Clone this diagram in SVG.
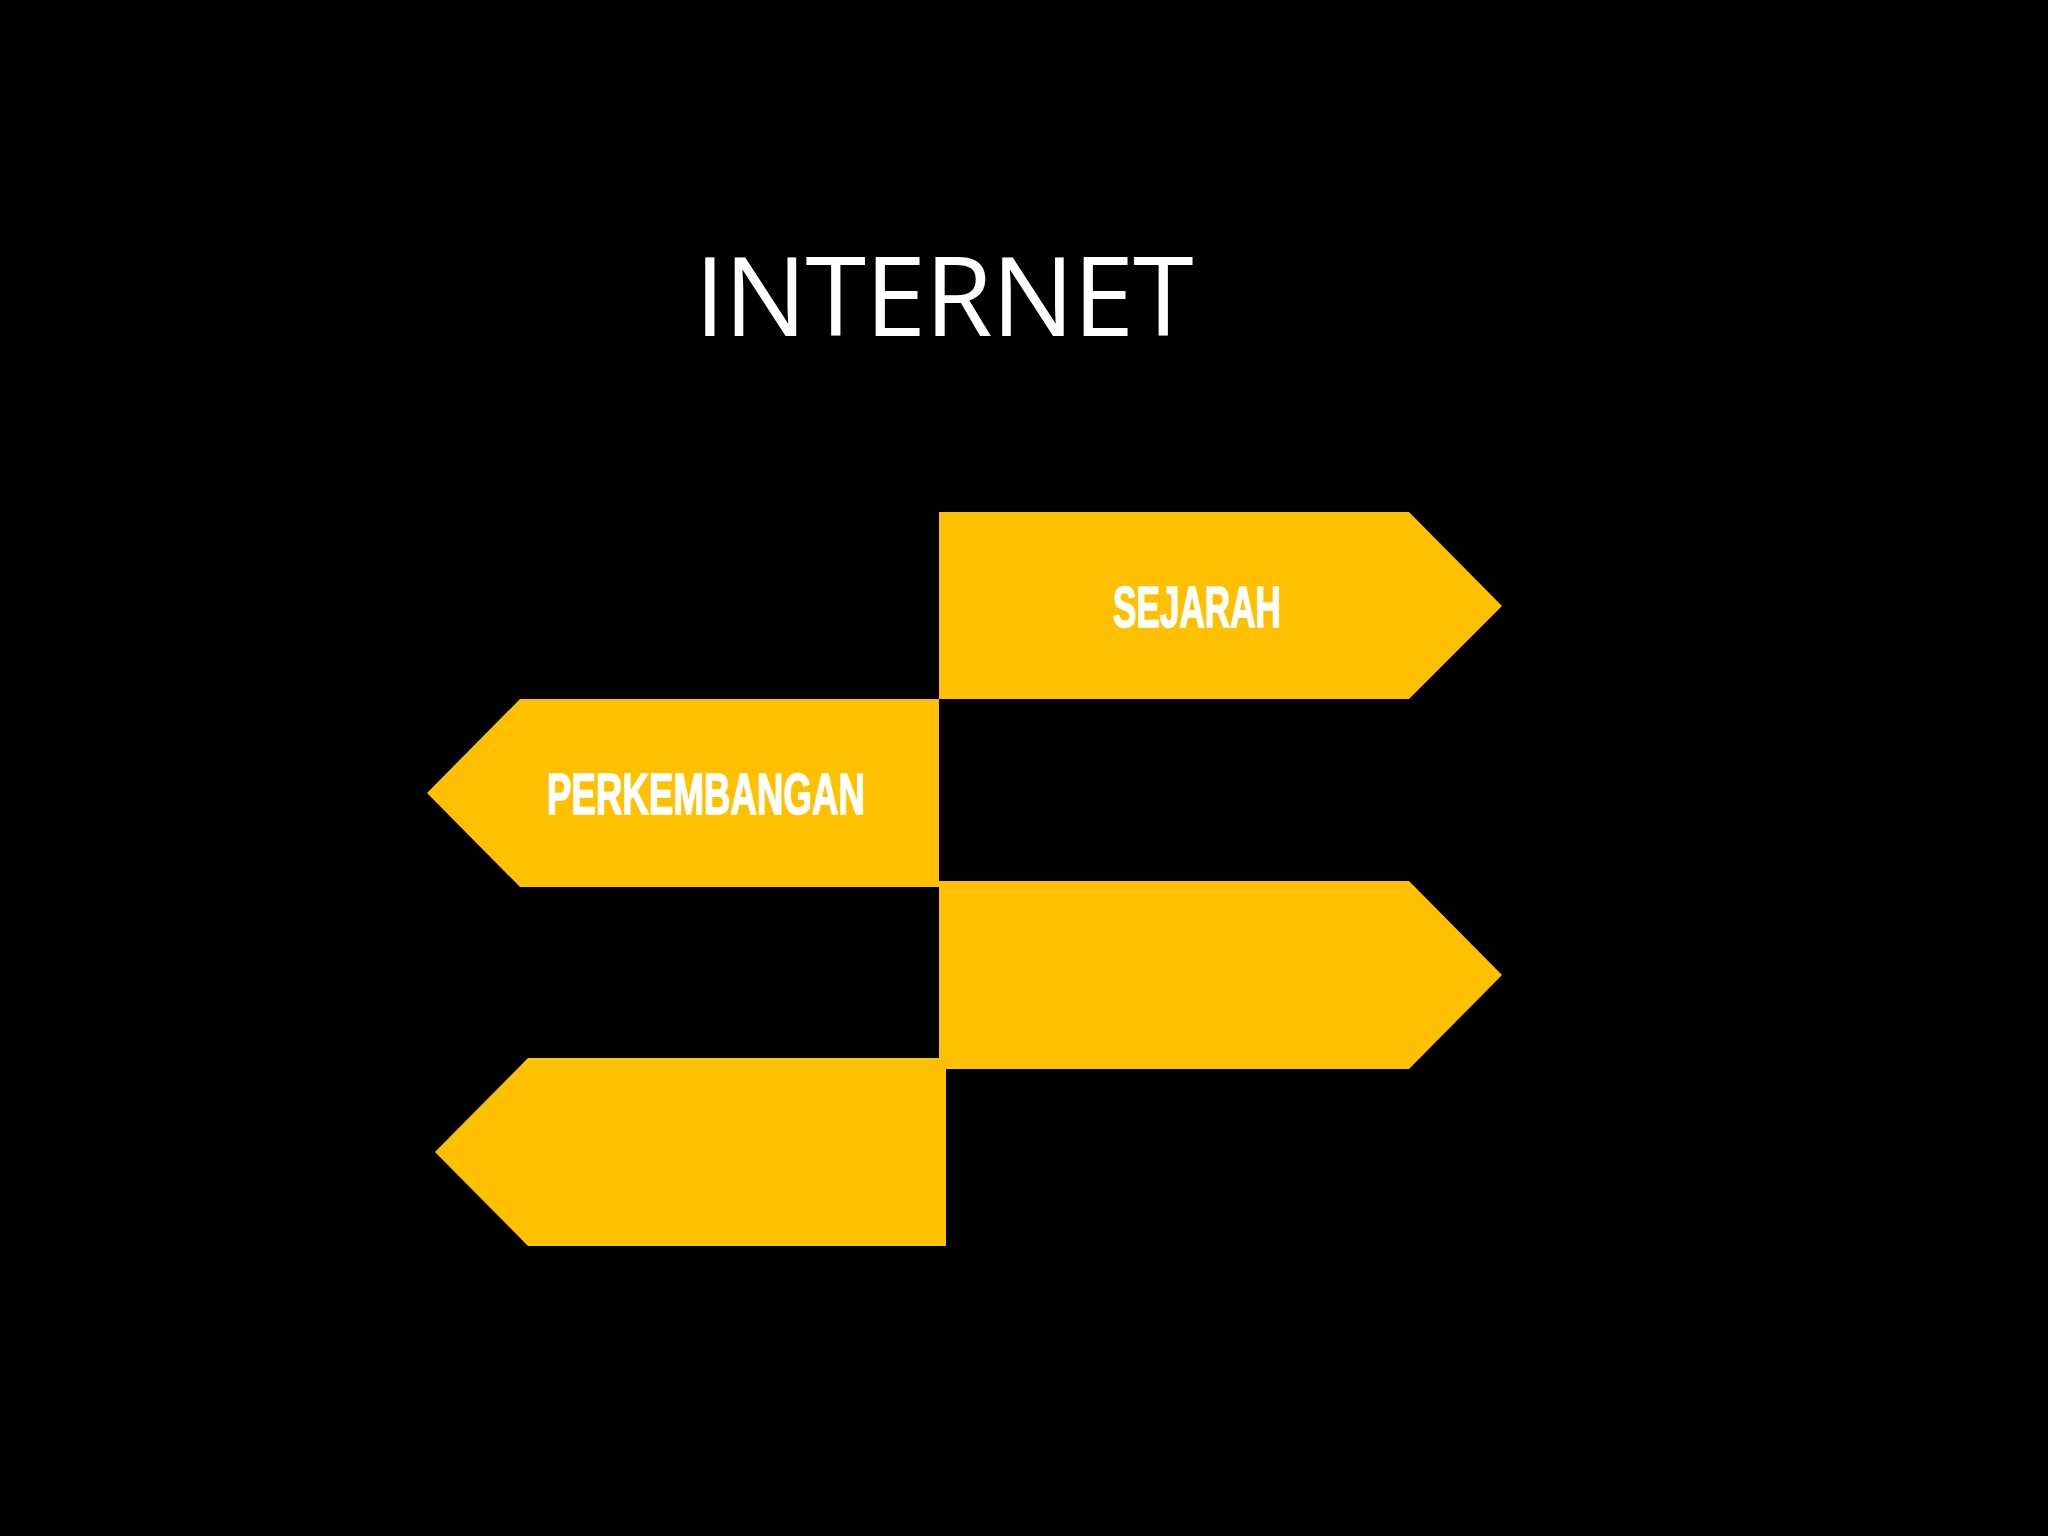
<svg xmlns="http://www.w3.org/2000/svg" width="2048" height="1536" viewBox="0 0 2048 1536">
<style>
.arrow{fill:#FFC000}
.lbl{fill:#FFFFFF;stroke:#FFFFFF;stroke-width:1.5;font-family:"Liberation Sans Narrow","Liberation Sans",sans-serif;font-weight:bold;font-size:57px;text-anchor:middle}
.title{fill:#FFFFFF;font-family:"Open Sans","Liberation Sans",sans-serif;font-size:110px;text-anchor:middle}
</style>
<rect x="0" y="0" width="2048" height="1536" fill="#000000"/>
<text class="title" x="944" y="336" textLength="499" lengthAdjust="spacing">INTERNET</text>
<g id="node-sejarah">
<polygon class="arrow" points="939,512 1409,512 1502,606 1409,699 939,699"/>
<text class="lbl" x="1197" y="627" textLength="168" lengthAdjust="spacingAndGlyphs">SEJARAH</text>
</g>
<g id="node-perkembangan">
<polygon class="arrow" points="939,699 520,699 427,793 520,887 939,887"/>
<text class="lbl" x="706" y="814" textLength="318" lengthAdjust="spacingAndGlyphs">PERKEMBANGAN</text>
</g>
<g id="node-right-blank">
<polygon class="arrow" points="939,881 1409,881 1502,975 1409,1069 939,1069"/>
</g>
<g id="node-left-blank">
<polygon class="arrow" points="946,1058 528,1058 435,1152 528,1246 946,1246"/>
</g>
<g id="connectors"></g>
</svg>
